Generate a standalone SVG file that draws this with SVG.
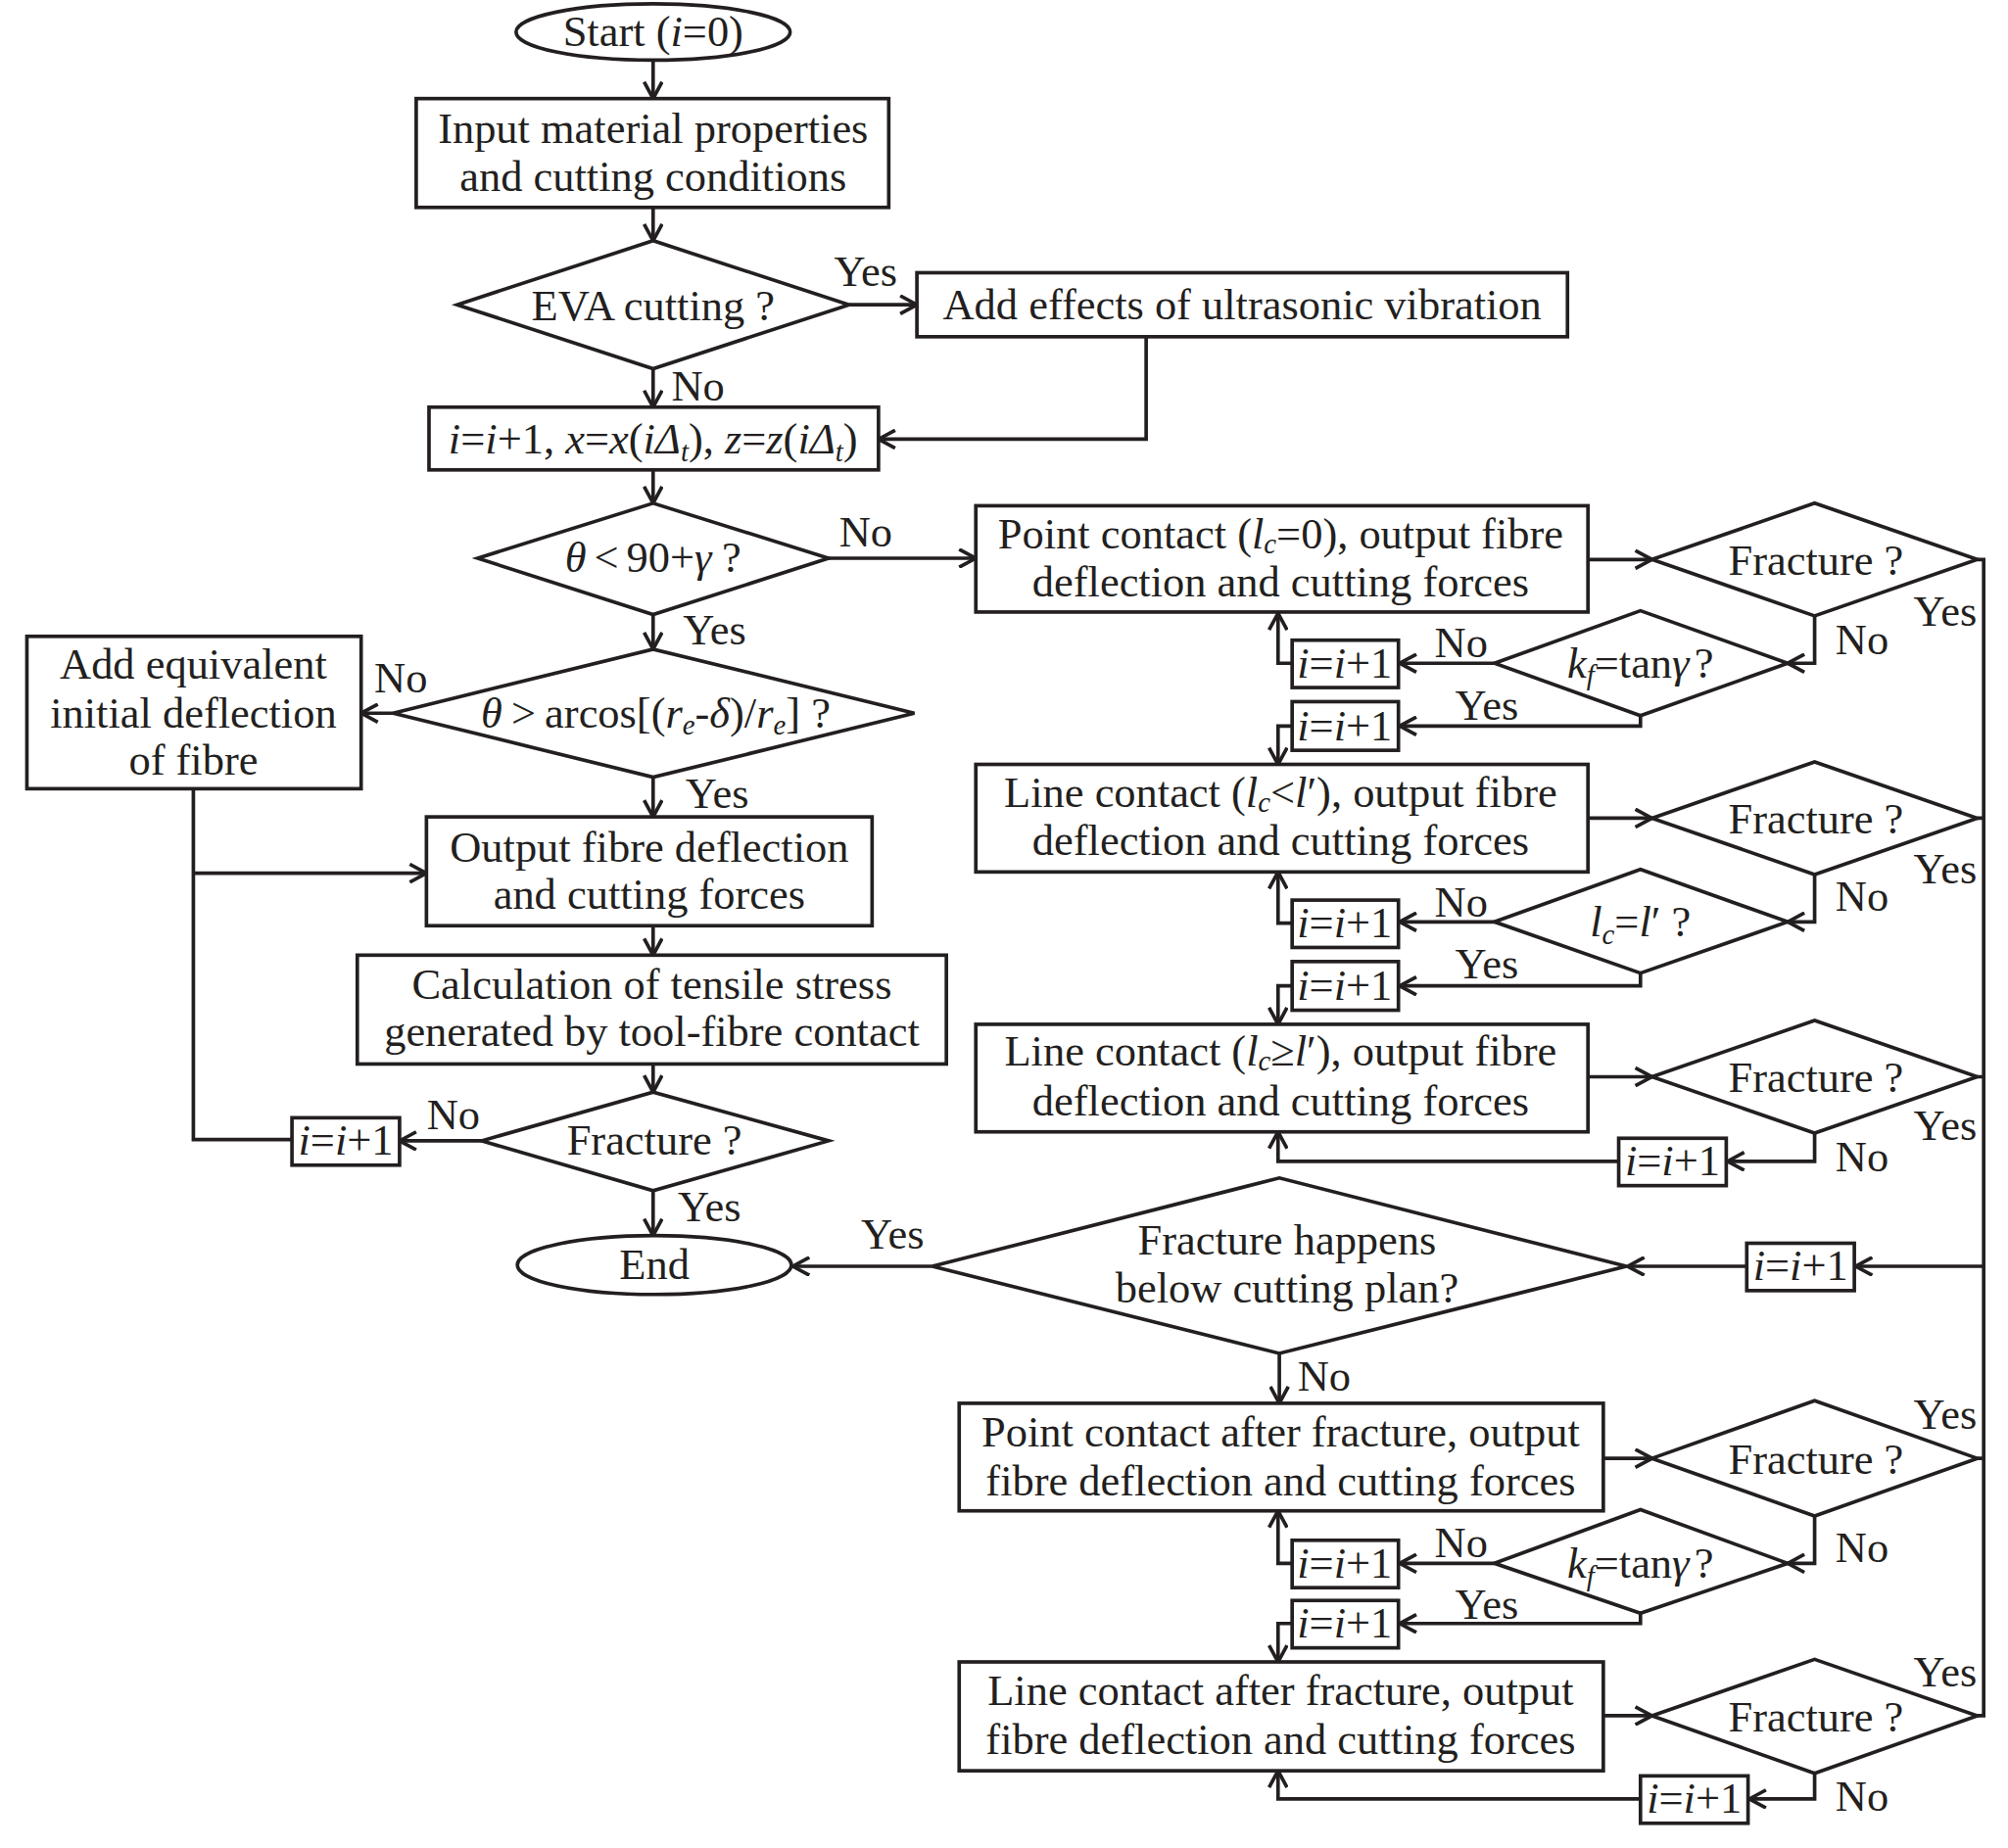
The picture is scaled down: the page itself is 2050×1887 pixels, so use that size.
<svg xmlns="http://www.w3.org/2000/svg" width="2050" height="1887" viewBox="0 0 2050 1887">
<style>
.s{fill:none;stroke:#231f20;stroke-width:2.8}
.b{fill:#fff;stroke:#231f20;stroke-width:2.8}
text{font-family:"Liberation Serif","Times New Roman",serif;font-size:34px;fill:#231f20;text-anchor:middle}
.i{font-style:italic}
.sub{font-size:22px;font-style:italic}
</style>
<defs>
<marker id="a" viewBox="0 0 16 16" refX="14" refY="8" markerWidth="16" markerHeight="16" orient="auto" markerUnits="userSpaceOnUse">
<path d="M1,1 L14,8 L1,15" fill="none" stroke="#231f20" stroke-width="2.8"/>
</marker>
</defs>
<rect width="2050" height="1887" fill="#fff"/>
<g transform="scale(1.3074)">
<g id="connectors" class="s">
<path d="M510,47 V77" marker-end="url(#a)"/>
<path d="M510,162 V188" marker-end="url(#a)"/>
<path d="M663,238 H716" marker-end="url(#a)"/>
<path d="M895,263 V343 H686" marker-end="url(#a)"/>
<path d="M510,288 V318" marker-end="url(#a)"/>
<path d="M510,367 V393" marker-end="url(#a)"/>
<path d="M647,436 H762" marker-end="url(#a)"/>
<path d="M510,480 V507" marker-end="url(#a)"/>
<path d="M307,557 H282" marker-end="url(#a)"/>
<path d="M510,607 V638" marker-end="url(#a)"/>
<path d="M151,616 V890 H228"/>
<path d="M151,682 H333" marker-end="url(#a)"/>
<path d="M510,723 V746" marker-end="url(#a)"/>
<path d="M510,831 V853" marker-end="url(#a)"/>
<path d="M376,891 H312" marker-end="url(#a)"/>
<path d="M510,930 V965" marker-end="url(#a)"/>
<path d="M1240,437 H1290" marker-end="url(#a)"/>
<path d="M1417,481 V518 H1396" marker-end="url(#a)"/>
<path d="M1167,518 H1093" marker-end="url(#a)"/>
<path d="M1009,518 H998 V479" marker-end="url(#a)"/>
<path d="M1281,559 V567 H1093" marker-end="url(#a)"/>
<path d="M1009,567 H998 V597" marker-end="url(#a)"/>
<path d="M1240,639 H1290" marker-end="url(#a)"/>
<path d="M1417,683 V720 H1396" marker-end="url(#a)"/>
<path d="M1167,720 H1093" marker-end="url(#a)"/>
<path d="M1009,721 H998 V681" marker-end="url(#a)"/>
<path d="M1281,760 V770 H1093" marker-end="url(#a)"/>
<path d="M1009,770 H998 V800" marker-end="url(#a)"/>
<path d="M1240,841 H1290" marker-end="url(#a)"/>
<path d="M1417,885 V907 H1349" marker-end="url(#a)"/>
<path d="M1264,907 H998 V884" marker-end="url(#a)"/>
<path d="M1544,437 H1549 V1340 H1544 M1544,639 H1549 M1544,841 H1549 M1544,1139 H1549"/>
<path d="M1549,989 H1449" marker-end="url(#a)"/>
<path d="M1364,989 H1271" marker-end="url(#a)"/>
<path d="M728,989 H619" marker-end="url(#a)"/>
<path d="M999,1057 V1096" marker-end="url(#a)"/>
<path d="M1252,1139 H1290" marker-end="url(#a)"/>
<path d="M1417,1184 V1221 H1396" marker-end="url(#a)"/>
<path d="M1167,1221 H1093" marker-end="url(#a)"/>
<path d="M1009,1221 H998 V1180" marker-end="url(#a)"/>
<path d="M1281,1260 V1268 H1093" marker-end="url(#a)"/>
<path d="M1009,1268 H998 V1298" marker-end="url(#a)"/>
<path d="M1252,1340 H1290" marker-end="url(#a)"/>
<path d="M1417,1385 V1405 H1366" marker-end="url(#a)"/>
<path d="M1281,1405 H998 V1383" marker-end="url(#a)"/>
</g>
<g id="labels">
<text x="676" y="223">Yes</text>
<text x="545" y="313">No</text>
<text x="676" y="427">No</text>
<text x="558" y="503">Yes</text>
<text x="313" y="541">No</text>
<text x="560" y="631">Yes</text>
<text x="354" y="882">No</text>
<text x="554" y="954">Yes</text>
<text x="697" y="975">Yes</text>
<text x="1034" y="1086">No</text>
<text x="1519" y="489">Yes</text>
<text x="1454" y="511">No</text>
<text x="1141" y="513">No</text>
<text x="1161" y="562">Yes</text>
<text x="1519" y="690">Yes</text>
<text x="1454" y="711">No</text>
<text x="1141" y="716">No</text>
<text x="1161" y="764">Yes</text>
<text x="1519" y="890">Yes</text>
<text x="1454" y="915">No</text>
<text x="1519" y="1116">Yes</text>
<text x="1454" y="1220">No</text>
<text x="1141" y="1216">No</text>
<text x="1161" y="1264">Yes</text>
<text x="1519" y="1317">Yes</text>
<text x="1454" y="1414">No</text>
</g>
<g id="start"><ellipse class="b" cx="510" cy="25" rx="107" ry="22"/><text x="510" y="36">Start (<tspan class="i">i</tspan>=0)</text></g>
<g id="input"><rect class="b" x="325" y="77" width="369" height="85"/><text x="510" y="112">Input material properties</text><text x="510" y="149">and cutting conditions</text></g>
<g id="eva"><polygon class="b" points="357,238 510,188 663,238 510,288"/><text x="510" y="250">EVA cutting ?</text></g>
<g id="ultra"><rect class="b" x="716" y="213" width="508" height="50"/><text x="970" y="249">Add effects of ultrasonic vibration</text></g>
<g id="step"><rect class="b" x="335" y="318" width="351" height="49"/><text x="510" y="354"><tspan class="i">i</tspan>=<tspan class="i">i</tspan>+1, <tspan class="i">x</tspan>=<tspan class="i">x</tspan>(<tspan class="i">iΔ</tspan><tspan class="sub" dy="6">t</tspan><tspan dy="-6">), </tspan><tspan class="i">z</tspan>=<tspan class="i">z</tspan>(<tspan class="i">iΔ</tspan><tspan class="sub" dy="6">t</tspan><tspan dy="-6">)</tspan></text></g>
<g id="theta1"><polygon class="b" points="373,436 510,393 647,436 510,480"/><text x="510" y="447"><tspan class="i">θ</tspan><tspan dx="6">&lt;</tspan><tspan dx="6">90+</tspan><tspan class="i">γ</tspan><tspan dx="8">?</tspan></text></g>
<g id="theta2"><polygon class="b" points="307,557 510,507 714,557 510,607"/><text x="512" y="568"><tspan class="i">θ</tspan><tspan dx="7">&gt;</tspan><tspan dx="7">arcos[(</tspan><tspan class="i">r</tspan><tspan class="sub" dy="6">e</tspan><tspan dy="-6">-</tspan><tspan class="i">δ</tspan>)/<tspan class="i">r</tspan><tspan class="sub" dy="6">e</tspan><tspan dy="-6">] ?</tspan></text></g>
<g id="equiv"><rect class="b" x="21" y="497" width="261" height="119"/><text x="151" y="530">Add equivalent</text><text x="151" y="568">initial deflection</text><text x="151" y="605">of fibre</text></g>
<g id="output"><rect class="b" x="333" y="638" width="348" height="85"/><text x="507" y="673">Output fibre deflection</text><text x="507" y="710">and cutting forces</text></g>
<g id="calc"><rect class="b" x="279" y="746" width="460" height="85"/><text x="509" y="780">Calculation of tensile stress</text><text x="509" y="817">generated by tool-fibre contact</text></g>
<g id="frac0"><polygon class="b" points="376,891 510,853 647,891 510,930"/><text x="511" y="902">Fracture ?</text></g>
<g id="inc0"><rect class="b" x="228" y="873" width="84" height="37"/><text x="270" y="902"><tspan class="i">i</tspan>=<tspan class="i">i</tspan>+1</text></g>
<g id="end"><ellipse class="b" cx="511" cy="988" rx="107" ry="23"/><text x="511" y="999">End</text></g>
<g id="point"><rect class="b" x="762" y="395" width="478" height="83"/><text x="1000" y="428">Point contact (<tspan class="i">l</tspan><tspan class="sub" dy="4">c</tspan><tspan dy="-4">=0), output fibre</tspan></text><text x="1000" y="466">deflection and cutting forces</text></g>
<g id="frac1"><polygon class="b" points="1290,437 1417,393 1544,437 1417,481"/><text x="1418" y="449">Fracture ?</text></g>
<g id="kf1"><polygon class="b" points="1167,518 1281,477 1396,518 1281,559"/><text x="1281" y="529"><tspan class="i">k</tspan><tspan class="sub" dy="6">f</tspan><tspan dy="-6">=tan</tspan><tspan class="i">γ</tspan><tspan dx="4">?</tspan></text></g>
<g id="inc1"><rect class="b" x="1009" y="500" width="83" height="37"/><text x="1050" y="529"><tspan class="i">i</tspan>=<tspan class="i">i</tspan>+1</text></g>
<g id="inc2"><rect class="b" x="1009" y="548" width="83" height="38"/><text x="1050" y="578"><tspan class="i">i</tspan>=<tspan class="i">i</tspan>+1</text></g>
<g id="line1"><rect class="b" x="762" y="597" width="478" height="84"/><text x="1000" y="630">Line contact (<tspan class="i">l</tspan><tspan class="sub" dy="4">c</tspan><tspan dy="-4">&lt;</tspan><tspan class="i">l</tspan>′), output fibre</text><text x="1000" y="668">deflection and cutting forces</text></g>
<g id="frac2"><polygon class="b" points="1290,639 1417,595 1544,639 1417,683"/><text x="1418" y="651">Fracture ?</text></g>
<g id="lc"><polygon class="b" points="1167,720 1281,679 1396,720 1281,760"/><text x="1281" y="731"><tspan class="i">l</tspan><tspan class="sub" dy="6">c</tspan><tspan dy="-6">=</tspan><tspan class="i">l</tspan>′ ?</text></g>
<g id="inc3"><rect class="b" x="1009" y="703" width="83" height="37"/><text x="1050" y="732"><tspan class="i">i</tspan>=<tspan class="i">i</tspan>+1</text></g>
<g id="inc4"><rect class="b" x="1009" y="751" width="83" height="38"/><text x="1050" y="781"><tspan class="i">i</tspan>=<tspan class="i">i</tspan>+1</text></g>
<g id="line2"><rect class="b" x="762" y="800" width="478" height="84"/><text x="1000" y="832">Line contact (<tspan class="i">l</tspan><tspan class="sub" dy="4">c</tspan><tspan dy="-4">≥</tspan><tspan class="i">l</tspan>′), output fibre</text><text x="1000" y="871">deflection and cutting forces</text></g>
<g id="frac3"><polygon class="b" points="1290,841 1417,797 1544,841 1417,885"/><text x="1418" y="853">Fracture ?</text></g>
<g id="inc5"><rect class="b" x="1264" y="889" width="84" height="37"/><text x="1306" y="918"><tspan class="i">i</tspan>=<tspan class="i">i</tspan>+1</text></g>
<g id="below"><polygon class="b" points="728,989 999,920 1270,989 999,1057"/><text x="1005" y="980">Fracture happens</text><text x="1005" y="1017">below cutting plan?</text></g>
<g id="inc6"><rect class="b" x="1364" y="971" width="84" height="37"/><text x="1406" y="1000"><tspan class="i">i</tspan>=<tspan class="i">i</tspan>+1</text></g>
<g id="pointafter"><rect class="b" x="749" y="1096" width="503" height="84"/><text x="1000" y="1130">Point contact after fracture, output</text><text x="1000" y="1168">fibre deflection and cutting forces</text></g>
<g id="frac4"><polygon class="b" points="1290,1139 1417,1094 1544,1139 1417,1184"/><text x="1418" y="1151">Fracture ?</text></g>
<g id="kf2"><polygon class="b" points="1167,1221 1281,1179 1396,1221 1281,1260"/><text x="1281" y="1232"><tspan class="i">k</tspan><tspan class="sub" dy="6">f</tspan><tspan dy="-6">=tan</tspan><tspan class="i">γ</tspan><tspan dx="4">?</tspan></text></g>
<g id="inc7"><rect class="b" x="1009" y="1203" width="83" height="37"/><text x="1050" y="1232"><tspan class="i">i</tspan>=<tspan class="i">i</tspan>+1</text></g>
<g id="inc8"><rect class="b" x="1009" y="1250" width="83" height="37"/><text x="1050" y="1279"><tspan class="i">i</tspan>=<tspan class="i">i</tspan>+1</text></g>
<g id="lineafter"><rect class="b" x="749" y="1298" width="503" height="85"/><text x="1000" y="1332">Line contact after fracture, output</text><text x="1000" y="1370">fibre deflection and cutting forces</text></g>
<g id="frac5"><polygon class="b" points="1290,1340 1417,1296 1544,1340 1417,1385"/><text x="1418" y="1352">Fracture ?</text></g>
<g id="inc9"><rect class="b" x="1281" y="1387" width="84" height="37"/><text x="1323" y="1416"><tspan class="i">i</tspan>=<tspan class="i">i</tspan>+1</text></g>
</g>
</svg>
